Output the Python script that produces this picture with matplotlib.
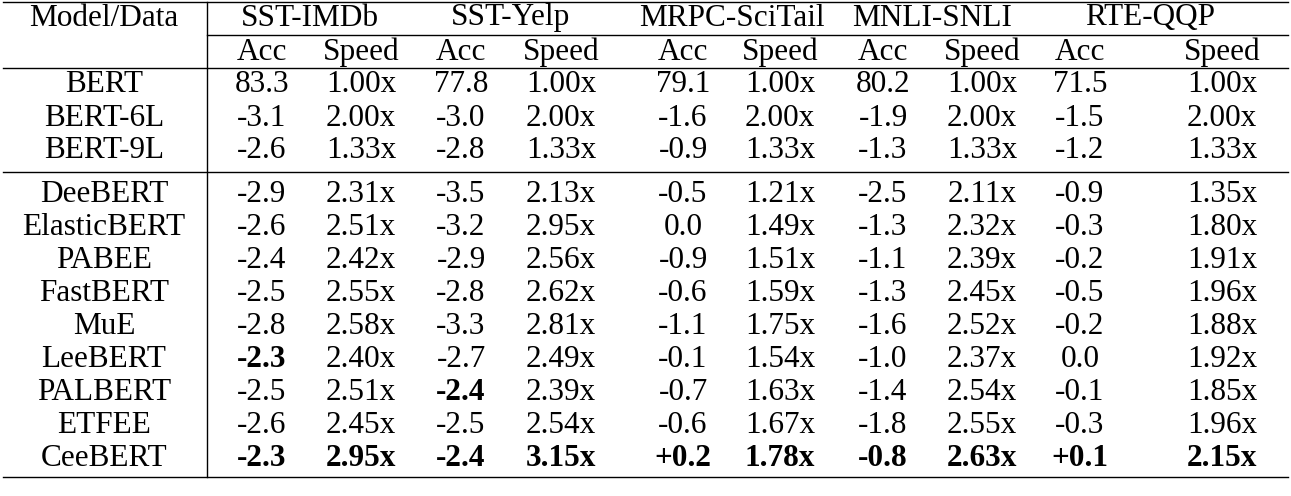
import matplotlib.pyplot as plt

W, H = 1291, 496

datasets = ['SST-IMDb', 'SST-Yelp', 'MRPC-SciTail', 'MNLI-SNLI', 'RTE-QQP']
models = ['BERT', 'BERT-6L', 'BERT-9L', 'DeeBERT', 'ElasticBERT', 'PABEE',
          'FastBERT', 'MuE', 'LeeBERT', 'PALBERT', 'ETFEE', 'CeeBERT']
acc = [
    ['83.3', '77.8', '79.1', '80.2', '71.5'],
    ['-3.1', '-3.0', '-1.6', '-1.9', '-1.5'],
    ['-2.6', '-2.8', '-0.9', '-1.3', '-1.2'],
    ['-2.9', '-3.5', '-0.5', '-2.5', '-0.9'],
    ['-2.6', '-3.2', '0.0', '-1.3', '-0.3'],
    ['-2.4', '-2.9', '-0.9', '-1.1', '-0.2'],
    ['-2.5', '-2.8', '-0.6', '-1.3', '-0.5'],
    ['-2.8', '-3.3', '-1.1', '-1.6', '-0.2'],
    ['-2.3', '-2.7', '-0.1', '-1.0', '0.0'],
    ['-2.5', '-2.4', '-0.7', '-1.4', '-0.1'],
    ['-2.6', '-2.5', '-0.6', '-1.8', '-0.3'],
    ['-2.3', '-2.4', '+0.2', '-0.8', '+0.1'],
]
speed = [
    ['1.00x'] * 5,
    ['2.00x'] * 5,
    ['1.33x'] * 5,
    ['2.31x', '2.13x', '1.21x', '2.11x', '1.35x'],
    ['2.51x', '2.95x', '1.49x', '2.32x', '1.80x'],
    ['2.42x', '2.56x', '1.51x', '2.39x', '1.91x'],
    ['2.55x', '2.62x', '1.59x', '2.45x', '1.96x'],
    ['2.58x', '2.81x', '1.75x', '2.52x', '1.88x'],
    ['2.40x', '2.49x', '1.54x', '2.37x', '1.92x'],
    ['2.51x', '2.39x', '1.63x', '2.54x', '1.85x'],
    ['2.45x', '2.54x', '1.67x', '2.55x', '1.96x'],
    ['2.95x', '3.15x', '1.78x', '2.63x', '2.15x'],
]
# (row, dataset) cells of accuracy in bold, besides the last row
bold_acc = [(8, 0), (9, 1)]

fig = plt.figure(figsize=(W / 100, H / 100), dpi=100)
ax = fig.add_axes([0, 0, 1, 1])
ax.set_xlim(0, W)
ax.set_ylim(H, 0)
ax.axis('off')
plt.rcParams['font.family'] = ['Liberation Serif', 'DejaVu Serif']
fs = 22.5

acc_x = [262, 461, 683, 883, 1080]
speed_x = [361, 561, 780, 982, 1222]
group_x = [310, 511, 732, 932, 1150]

ax.text(104, 18, 'Model/Data', ha='center', va='center', fontsize=fs)
for i, d in enumerate(datasets):
    ax.text(group_x[i], 18, d, ha='center', va='center', fontsize=fs)
    ax.text(acc_x[i], 52, 'Acc', ha='center', va='center', fontsize=fs)
    ax.text(speed_x[i], 52, 'Speed', ha='center', va='center', fontsize=fs)

row_y = [85, 118, 151] + [194 + 33.1 * k for k in range(9)]
for r, m in enumerate(models):
    y = row_y[r]
    last = r == len(models) - 1
    ax.text(104, y, m, ha='center', va='center', fontsize=fs)
    for i in range(5):
        wa = 'bold' if last or (r, i) in bold_acc else 'normal'
        ax.text(acc_x[i], y, acc[r][i], ha='center', va='center', fontsize=fs, weight=wa)
        ax.text(speed_x[i], y, speed[r][i], ha='center', va='center', fontsize=fs,
                weight='bold' if last else 'normal')

lw = 1.0
ax.plot([3, 1288], [2, 2], color='black', lw=lw)
ax.plot([207, 1288], [35, 35], color='black', lw=lw)
ax.plot([3, 1288], [68, 68], color='black', lw=lw)
ax.plot([3, 1288], [172, 172], color='black', lw=lw)
ax.plot([3, 1288], [477, 477], color='black', lw=lw)
ax.plot([207, 207], [2, 477], color='black', lw=lw)

fig.savefig('out.png', dpi=100)
